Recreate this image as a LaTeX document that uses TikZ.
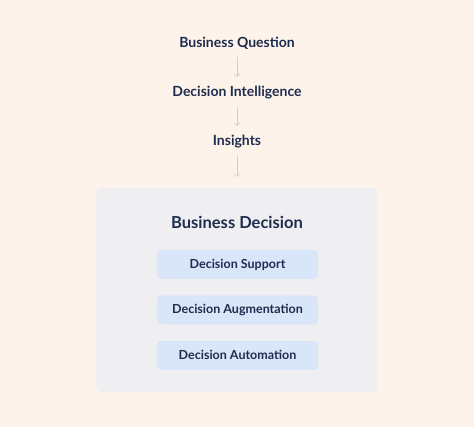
\documentclass[tikz,border=0pt]{standalone}
\usepackage{fontspec}
\setmainfont{Lato}
\usepackage{tikz}
\usetikzlibrary{positioning,arrows.meta}

\definecolor{peach}{HTML}{FDF3EB}
\definecolor{panelgray}{HTML}{EFEEF1}
\definecolor{boxblue}{HTML}{D9E5F8}
\definecolor{navy}{HTML}{1E2C4E}
\definecolor{arrowlilac}{HTML}{D5C7DD}

\tikzset{
  step label/.style={text=navy, font=\fontsize{14}{16}\selectfont\bfseries},
  flow/.style={draw=arrowlilac, line width=0.6pt, shorten <=4pt, shorten >=6pt,
    -{Straight Barb[length=3pt, width=6pt]}},
  option box/.style={fill=boxblue, rounded corners=4pt, minimum width=161pt, minimum height=29pt,
    text=navy, font=\fontsize{12.5}{14}\selectfont\bfseries}
}

\begin{document}
\begin{tikzpicture}[x=1pt, y=-1pt]
\fill[peach] (0,0) rectangle (474,427);
\useasboundingbox (0,0) rectangle (474,427);

\node[step label] (question) at (237,43) {Business Question};
\node[step label] (intel) at (237,93) {Decision Intelligence};
\node[step label] (insights) at (237,142) {Insights};

\fill[panelgray, rounded corners=6pt] (96,188) rectangle (378,392);
\node[text=navy, font=\fontsize{16.5}{18}\selectfont\bfseries] (decision) at (237,222) {Business Decision};
\coordinate (panel top) at (237,183);

\node[option box] (support) at (237.5,264.5) {Decision Support};
\node[option box, below = 16pt of support] (augment) {Decision Augmentation};
\node[option box, below = 16pt of augment] (automate) {Decision Automation};

\draw[flow] (question) -- (intel);
\draw[flow] (intel) -- (insights);
\draw[flow] (insights) -- (panel top);
\end{tikzpicture}
\end{document}
